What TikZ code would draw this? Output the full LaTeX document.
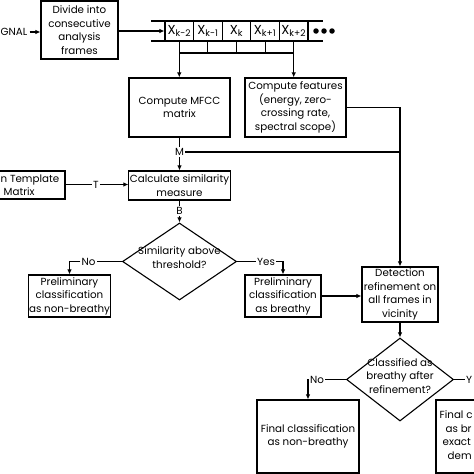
\documentclass[tikz,border=0pt]{standalone}
\usepackage{fontspec}
\setmainfont{Poppins}
\usetikzlibrary{shapes.geometric,arrows.meta}
\newcommand{\diatxt}[1]{\makebox[0pt]{\smash{\begin{tabular}{@{}c@{}}#1\end{tabular}}}}
\tikzset{
 box/.style={draw, line width=1.1pt, align=center, inner sep=1pt, font=\fontsize{10.3}{13.5}\selectfont},
 cell/.style={draw, line width=1.1pt, minimum width=28.6pt, minimum height=20pt, inner sep=0pt, font=\fontsize{13}{14}\selectfont},
 lbl/.style={inner sep=1pt, font=\fontsize{10.3}{12}\selectfont},
 dia/.style={draw, diamond, line width=1.1pt, inner sep=0pt, font=\fontsize{10.3}{13.5}\selectfont},
 ln/.style={line width=1.1pt},
 arr/.style={line width=1.1pt, -{Latex[length=5pt,width=4.5pt]}},
 bigdot/.style={circle, fill, inner sep=0pt, minimum size=5.5pt},
 frag/.style={inner sep=0pt, align=left, font=\fontsize{10.3}{13.5}\selectfont},
}
\begin{document}
\begin{tikzpicture}[x=1pt,y=-1pt]
\useasboundingbox (0,0) rectangle (474,474);
\clip (0,0) rectangle (474,474);
% input
\node[box, minimum width=77pt, minimum height=58pt] (divide) at (79.5,30) {Divide into\\consecutive\\analysis\\frames};
\node[lbl, anchor=west, inner sep=0pt] (sig) at (0.5,32) {GNAL};
\draw[arr] (sig.east) ++(2,0) coordinate (sigout) (sigout) -- (divide.west |- sig.east);
% frame buffer
\node[cell] (c1) at (179.3,31) {X\textsubscript{k-2}};
\node[cell] (c2) at (207.9,31) {X\textsubscript{k-1}};
\node[cell] (c3) at (236.5,31) {X\textsubscript{k}};
\node[cell] (c4) at (265.1,31) {X\textsubscript{k+1}};
\node[cell] (c5) at (293.7,31) {X\textsubscript{k+2}};
\draw[ln] (151,21) -- (323,21);
\draw[ln] (151,41) -- (323,41);
\node[bigdot] (dA) at (316,31) {};
\node[bigdot] (dB) at (324,31) {};
\node[bigdot] (dC) at (332,31) {};
\draw[arr] (divide.east |- c1.west) -- (c1.west);
% features
\node[box, minimum width=101pt, minimum height=59pt] (mfcc) at (179.5,107.5) {Compute MFCC\\matrix};
\node[box, minimum width=101pt, minimum height=59pt] (feat) at (295.5,107.5) {Compute features\\(energy, zero-\\crossing rate,\\spectral scope)};
\coordinate (bus) at (180,53);
\draw[ln] (c2.south) -- (c2.south |- bus);
\draw[ln] (c3.south) -- (c3.south |- bus);
\draw[ln] (c4.south) -- (c4.south |- bus);
\draw[ln] (c1.south |- bus) -- (c5.south |- bus);
\draw[arr] (c1.south) -- (c1.south |- mfcc.north);
\draw[arr] (c5.south) -- (c5.south |- feat.north);
% detection refinement
\node[box, minimum width=76pt, minimum height=55pt] (detect) at (400,294.5) {Detection\\refinement on\\all frames in\\vicinity};
\coordinate (fcorner) at (detect.north |- feat.east);
\draw[arr] (feat.east) -- (fcorner) -- (detect.north);
% similarity
\node[lbl] (M) at (179.5,152) {M};
\draw[ln] (mfcc.south) -- (M.north);
\draw[ln] (M.east) -- (M.east -| detect.north);
\node[box, minimum width=101pt, minimum height=29pt] (calc) at (179.5,185.5) {Calculate similarity\\measure};
\draw[arr] (M.south) -- (calc.north);
\node[box, minimum width=75pt, minimum height=28pt] (tmpl) at (27.5,185) {};
\node[frag, anchor=west] (tmplt) at (0.5,185) {n Template\\\hspace*{3pt}Matrix};
\node[lbl] (T) at (96,184.5) {T};
\draw[ln] (tmpl.east |- T) -- (T);
\draw[arr] (T) -- (calc.west |- T);
\node[lbl] (B) at (179.5,211) {B};
\draw[ln] (calc.south) -- (B.north);
\node[dia, minimum width=114pt, minimum height=77pt] (sim) at (179.5,261.5) {\diatxt{Similarity above\\threshold?}};
\draw[arr] (B.south) -- (sim.north);
% preliminary
\node[box, minimum width=81pt, minimum height=42pt] (pnb) at (69.5,296) {Preliminary\\classification\\as non-breathy};
\node[box, minimum width=76pt, minimum height=42pt] (pb) at (283,296) {Preliminary\\classification\\as breathy};
\node[lbl] (no1) at (88.5,261.5) {No};
\draw[ln] (sim.west) -- (no1.east);
\draw[arr] (no1.west) -- (pnb.north |- no1) -- (pnb.north);
\node[lbl] (yes1) at (266,261.5) {Yes};
\draw[ln] (sim.east) -- (yes1.west);
\draw[arr] (yes1.east) -- (pb.north |- yes1) -- (pb.north);
\draw[arr] (pb.east) -- (pb.east -| detect.west);
% final
\node[dia, minimum width=107pt, minimum height=83pt] (cls) at (400,379.5) {\diatxt{Classified as\\breathy after\\refinement?}};
\draw[arr] (detect.south) -- (cls.north);
\node[box, minimum width=102pt, minimum height=73pt] (fnb) at (308,436.5) {Final classification\\as non-breathy};
\node[lbl] (no2) at (317,379.5) {No};
\draw[ln] (cls.west) -- (no2.east);
\draw[arr] (no2.west) -- (fnb.north |- no2) -- (fnb.north);
\node[lbl, anchor=west] (yes2) at (465,379.5) {Y};
\draw[ln] (cls.east) -- (yes2.west);
\node[box, minimum width=100pt, minimum height=73pt] (fb) at (486,436.5) {};
\node[frag, anchor=west] (fbt) at (439.5,435) {Final c\\\hspace*{6pt}as br\\\hspace*{3pt}exact\\\hspace*{8pt}dem};
\end{tikzpicture}
\end{document}
